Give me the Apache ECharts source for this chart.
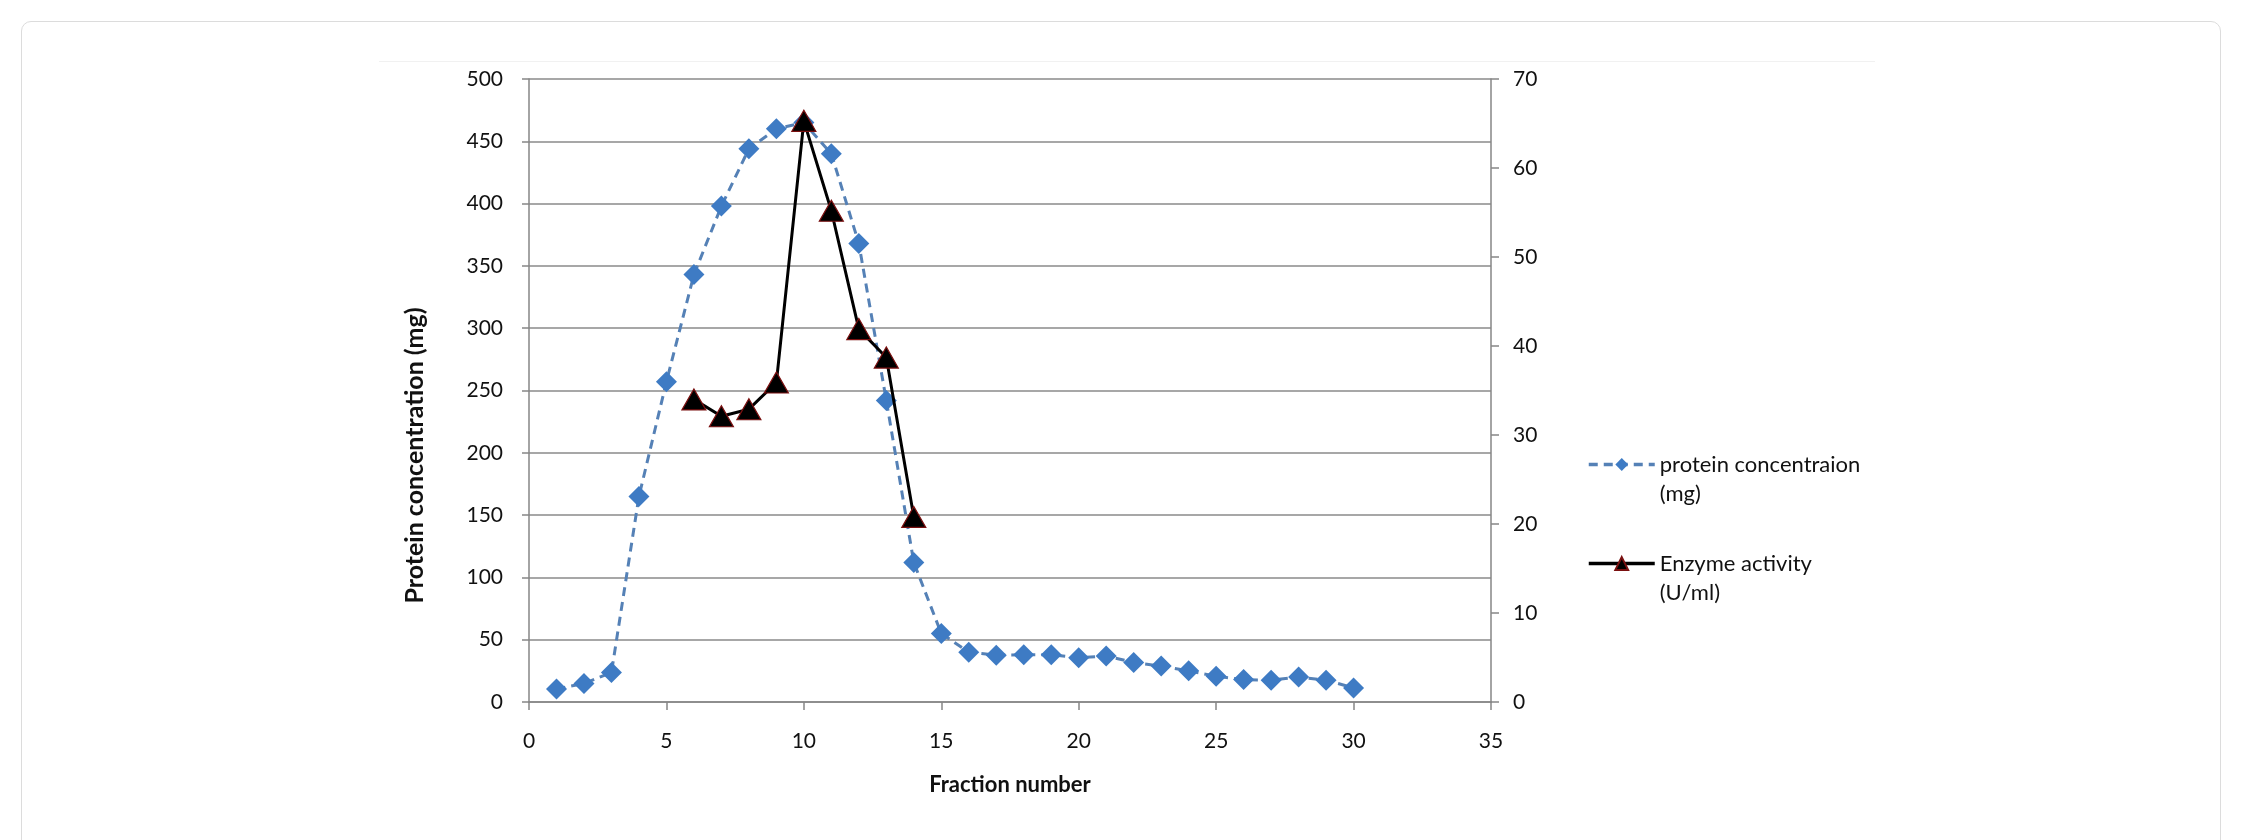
<!DOCTYPE html>
<html>
<head>
<meta charset="utf-8">
<script src="https://cdn.jsdelivr.net/npm/echarts@6/dist/echarts.min.js"></script>
<style>
  html, body { margin: 0; padding: 0; background: #fff; }
  #card {
    position: absolute; left: 21px; top: 21px; width: 2200px; height: 840px;
    border: 1px solid #dcdcdc; border-radius: 10px; box-sizing: border-box;
  }
  #edge {
    position: absolute; left: 379px; top: 61px; width: 1496px; height: 0;
    border-top: 1px solid #f1f1f1;
  }
  #chart { position: absolute; left: 0; top: 0; width: 2244px; height: 840px; }
</style>
</head>
<body>
<div id="card"></div>
<div id="edge"></div>
<div id="chart"></div>
<script>
// fraction numbers
const fractions = [1, 2, 3, 4, 5, 6, 7, 8, 9, 10, 11, 12, 13, 14, 15,
  16, 17, 18, 19, 20, 21, 22, 23, 24, 25, 26, 27, 28, 29, 30];
// protein concentration (mg), left axis
const protein = [10.5, 14.8, 23.7, 165, 257, 343, 398, 444, 460, 465, 440, 368, 242, 112, 55,
  40, 37.6, 38, 38, 35.5, 37, 31.7, 28.8, 25, 20.7, 18, 17.5, 20, 17.5, 11.3];
// enzyme activity (U/ml), right axis, fractions 6..14
const enzymeFractions = [6, 7, 8, 9, 10, 11, 12, 13, 14];
const enzyme = [34, 32.1, 32.9, 35.9, 65.3, 55.2, 41.9, 38.7, 20.8];

const font = "Lato, 'Open Sans', sans-serif";

const chartDom = document.getElementById("chart");
const myChart = echarts.init(chartDom);

const option = {
  backgroundColor: "transparent",
  animation: false,
  textStyle: { fontFamily: font },
  grid: { left: 529, right: 753, top: 79, bottom: 138 },
  legend: {
    orient: "vertical",
    left: 1582,
    top: 416,
    itemWidth: 66,
    itemHeight: 16,
    itemGap: 12,
    lineStyle: { width: 3.5 },
    // blank first line keeps the icon level with the first text line
    formatter: (name) => " \n" + name.replace(" (", "\n("),
    textStyle: {
      fontFamily: font,
      fontSize: 22,
      color: "#111",
      lineHeight: 29,
    },
    data: ["protein concentraion (mg)", "Enzyme activity (U/ml)"],
  },
  xAxis: {
    type: "value",
    min: 0,
    max: 35,
    interval: 5,
    name: "Fraction number",
    nameLocation: "middle",
    nameGap: 72,
    nameTextStyle: { fontFamily: font, fontSize: 22, fontWeight: "bold", color: "#111" },
    axisLine: { onZero: false, lineStyle: { color: "#868686", width: 1.5 } },
    axisTick: { show: true, length: 8, lineStyle: { color: "#868686", width: 1.5 } },
    axisLabel: { fontFamily: font, fontSize: 21, color: "#111", margin: 29 },
    splitLine: { show: false },
  },
  yAxis: [
    {
      type: "value",
      min: 0,
      max: 500,
      interval: 50,
      name: "Protein concentration (mg)",
      nameLocation: "middle",
      nameGap: 102,
      nameTextStyle: {
        fontFamily: font, fontSize: 25, fontWeight: "bold", color: "#111",
        padding: [0, 130, 0, 0],
      },
      axisLine: { show: true, lineStyle: { color: "#868686", width: 1.5 } },
      axisTick: { show: true, length: 7, lineStyle: { color: "#868686", width: 1.5 } },
      axisLabel: { fontFamily: font, fontSize: 21, color: "#111", margin: 26 },
      splitLine: { show: true, lineStyle: { color: "#8a8a8a", width: 1.5 } },
    },
    {
      type: "value",
      min: 0,
      max: 70,
      interval: 10,
      position: "right",
      axisLine: { show: true, lineStyle: { color: "#868686", width: 1.5 } },
      axisTick: { show: true, length: 8, lineStyle: { color: "#868686", width: 1.5 } },
      axisLabel: { fontFamily: font, fontSize: 21, color: "#111", margin: 22 },
      splitLine: { show: false },
    },
  ],
  series: [
    {
      name: "protein concentraion (mg)",
      type: "line",
      yAxisIndex: 0,
      data: fractions.map((f, i) => [f, protein[i]]),
      symbol: "diamond",
      symbolSize: 21,
      itemStyle: { color: "#3e7bc4" },
      lineStyle: { color: "#5581b6", width: 3, type: [9, 6] },
      z: 2,
    },
    {
      name: "Enzyme activity (U/ml)",
      type: "line",
      yAxisIndex: 1,
      data: enzymeFractions.map((f, i) => [f, enzyme[i]]),
      symbol: "triangle",
      symbolSize: [24, 21],
      itemStyle: { color: "#000000", borderColor: "#7a1010", borderWidth: 1.2 },
      lineStyle: { color: "#000000", width: 3 },
      z: 3,
    },
  ],
};

option && myChart.setOption(option);
</script>
</body>
</html>
